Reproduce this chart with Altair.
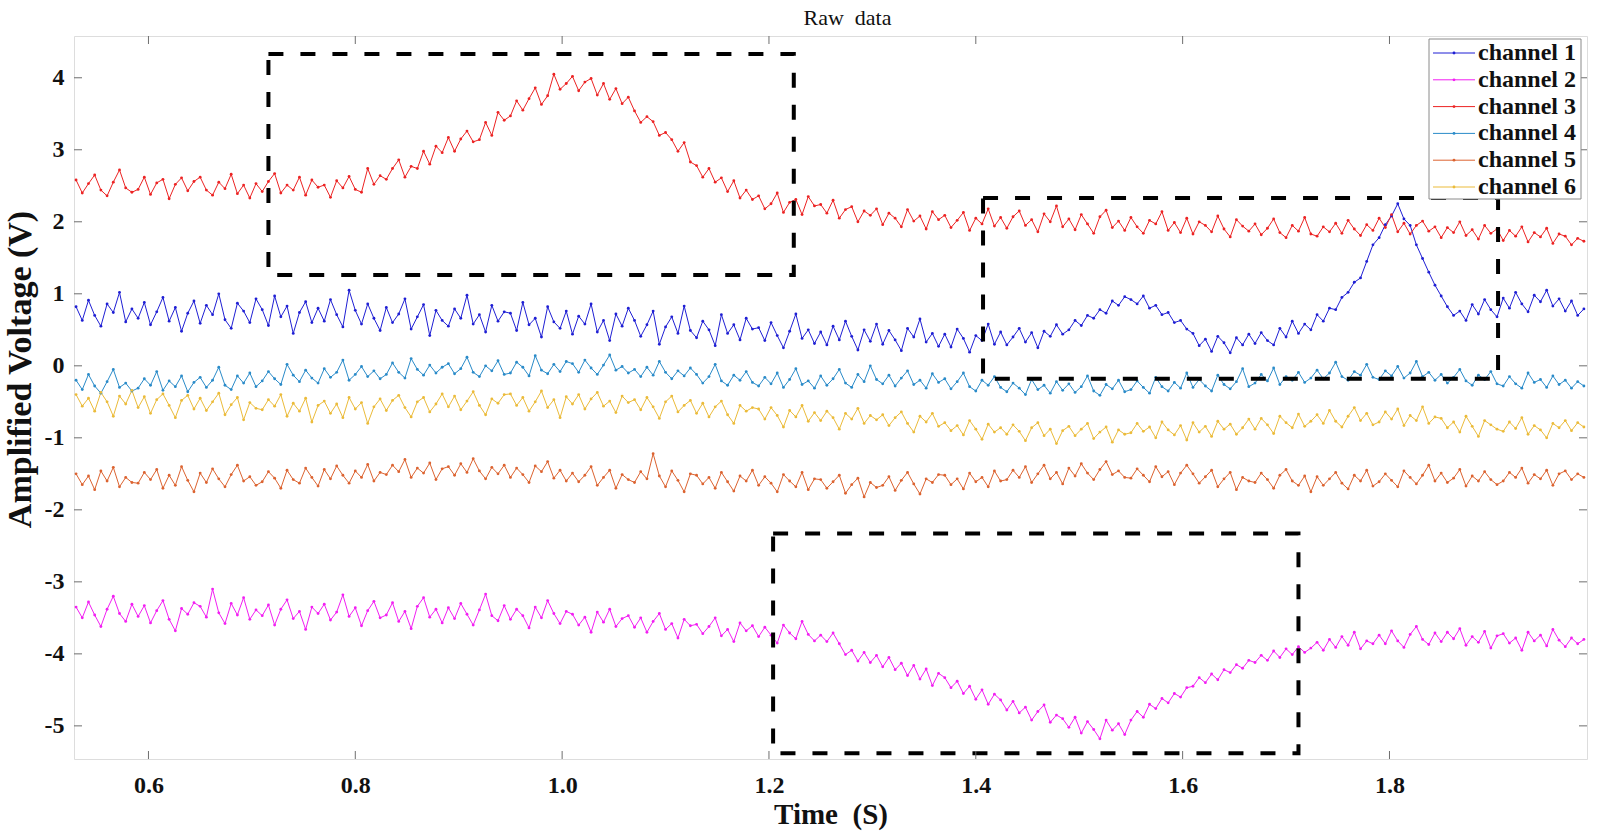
import altair as alt
import pandas as pd

# Sampling grid of the recording (seconds)
SAMPLE_START = 0.530
SAMPLE_STEP = 0.006

# Amplified voltage per channel (V), one row = 10 consecutive samples
ch1 = [
    0.82, 0.63, 0.91, 0.70, 0.55, 0.86, 0.74, 1.02, 0.61, 0.79,
    0.66, 0.88, 0.57, 0.75, 0.95, 0.62, 0.81, 0.48, 0.73, 0.90,
    0.59, 0.84, 0.71, 1.00, 0.64, 0.52, 0.87, 0.76, 0.60, 0.93,
    0.78, 0.56, 0.97, 0.68, 0.83, 0.45, 0.74, 0.89, 0.60, 0.80,
    0.62, 0.92, 0.71, 0.54, 1.05, 0.77, 0.58, 0.86, 0.66, 0.49,
    0.81, 0.60, 0.72, 0.93, 0.51, 0.68, 0.85, 0.42, 0.77, 0.63,
    0.55, 0.79, 0.66, 0.98, 0.58, 0.71, 0.47, 0.84, 0.62, 0.75,
    0.73, 0.49, 0.88, 0.57, 0.66, 0.40, 0.82, 0.61, 0.52, 0.76,
    0.44, 0.69, 0.58, 0.86, 0.47, 0.63, 0.35, 0.72, 0.55, 0.80,
    0.63, 0.41, 0.57, 0.76, 0.30, 0.54, 0.68, 0.45, 0.83, 0.49,
    0.39, 0.62, 0.50, 0.28, 0.71, 0.45, 0.57, 0.36, 0.66, 0.51,
    0.53, 0.35, 0.60, 0.42, 0.25, 0.48, 0.72, 0.38, 0.50, 0.31,
    0.47, 0.29, 0.55, 0.36, 0.62, 0.41, 0.22, 0.50, 0.34, 0.58,
    0.30, 0.49, 0.36, 0.21, 0.52, 0.40, 0.65, 0.33, 0.45, 0.27,
    0.44, 0.26, 0.51, 0.38, 0.19, 0.42, 0.35, 0.58, 0.30, 0.47,
    0.29, 0.40, 0.52, 0.33, 0.46, 0.25, 0.48, 0.41, 0.57, 0.44,
    0.50, 0.63, 0.56, 0.70, 0.66, 0.78, 0.73, 0.90, 0.84, 0.96,
    0.92, 0.86, 0.97, 0.80, 0.84, 0.71, 0.74, 0.60, 0.63, 0.51,
    0.45, 0.28, 0.37, 0.20, 0.41, 0.32, 0.18, 0.39, 0.29, 0.44,
    0.31, 0.46, 0.35, 0.29, 0.52, 0.40, 0.62, 0.45, 0.58, 0.50,
    0.71, 0.62, 0.80, 0.78, 0.95, 1.02, 1.16, 1.22, 1.45, 1.68,
    1.78, 1.96, 2.08, 2.25, 2.04, 1.95, 1.68, 1.49, 1.30, 1.12,
    0.97, 0.82, 0.70, 0.76, 0.63, 0.85, 0.72, 0.92, 0.78, 0.68,
    0.94, 0.80, 1.02, 0.86, 0.75, 0.98, 0.89, 1.05, 0.83, 0.93,
    0.76, 0.90, 0.70, 0.79,
]

ch2 = [
    -3.35, -3.50, -3.28, -3.46, -3.62, -3.38, -3.20, -3.44, -3.55, -3.31,
    -3.48, -3.33, -3.57, -3.40, -3.26, -3.52, -3.68, -3.37, -3.45, -3.29,
    -3.34, -3.49, -3.10, -3.43, -3.58, -3.30, -3.46, -3.22, -3.52, -3.39,
    -3.47, -3.32, -3.60, -3.38, -3.25, -3.51, -3.41, -3.66, -3.35, -3.44,
    -3.31, -3.53, -3.42, -3.18, -3.48, -3.36, -3.61, -3.40, -3.27, -3.50,
    -3.46, -3.29, -3.55, -3.41, -3.65, -3.34, -3.22, -3.49, -3.38, -3.57,
    -3.36, -3.51, -3.30, -3.45, -3.60, -3.39, -3.17, -3.47, -3.54, -3.33,
    -3.52, -3.38, -3.47, -3.64, -3.35, -3.50, -3.26, -3.44, -3.58, -3.41,
    -3.45, -3.60, -3.49, -3.70, -3.42, -3.56, -3.38, -3.62, -3.51, -3.47,
    -3.63, -3.50, -3.70, -3.55, -3.44, -3.66, -3.58, -3.78, -3.52, -3.61,
    -3.59, -3.72, -3.62, -3.50, -3.75, -3.66, -3.83, -3.57, -3.68, -3.61,
    -3.76, -3.63, -3.74, -3.85, -3.60, -3.71, -3.79, -3.55, -3.73, -3.82,
    -3.74, -3.83, -3.71, -3.86, -4.01, -3.95, -4.10, -3.98, -4.12, -4.02,
    -4.18, -4.05, -4.22, -4.13, -4.30, -4.16, -4.35, -4.21, -4.44, -4.27,
    -4.33, -4.47, -4.38, -4.55, -4.45, -4.63, -4.50, -4.70, -4.56, -4.64,
    -4.78, -4.66, -4.82, -4.74, -4.92, -4.80, -4.71, -4.95, -4.85, -4.90,
    -5.02, -4.88, -5.10, -4.94, -5.05, -5.18, -4.92, -5.06, -4.97, -5.12,
    -4.92, -4.80, -4.88, -4.70, -4.76, -4.62, -4.68, -4.55, -4.60, -4.47,
    -4.45, -4.33, -4.40, -4.28, -4.36, -4.22, -4.26, -4.15, -4.20, -4.09,
    -4.12, -4.02, -4.09, -3.96, -4.05, -3.93, -4.01, -3.90, -3.98, -3.92,
    -3.84, -3.95, -3.80, -3.91, -3.76, -3.88, -3.70, -3.93, -3.82, -3.86,
    -3.74, -3.86, -3.68, -3.82, -3.91, -3.73, -3.62, -3.80, -3.87, -3.71,
    -3.83, -3.70, -3.79, -3.65, -3.88, -3.76, -3.84, -3.69, -3.92, -3.75,
    -3.72, -3.85, -3.78, -3.95, -3.70, -3.82, -3.74, -3.89, -3.66, -3.81,
    -3.90, -3.78, -3.86, -3.80,
]

ch3 = [
    2.58, 2.40, 2.53, 2.65, 2.44, 2.36, 2.55, 2.72, 2.47, 2.41,
    2.45, 2.62, 2.38, 2.54, 2.59, 2.32, 2.52, 2.61, 2.43, 2.56,
    2.62, 2.44, 2.37, 2.55, 2.46, 2.66, 2.39, 2.51, 2.33, 2.53,
    2.42, 2.56, 2.67, 2.40, 2.51, 2.44, 2.62, 2.37, 2.58, 2.48,
    2.51, 2.34, 2.57, 2.47, 2.63, 2.45, 2.41, 2.74, 2.52, 2.64,
    2.59, 2.74, 2.86, 2.62, 2.77, 2.74, 2.98, 2.80, 3.05, 2.96,
    3.17, 2.98, 3.15, 3.26, 3.11, 3.14, 3.38, 3.20, 3.52, 3.41,
    3.47, 3.68, 3.55, 3.71, 3.86, 3.63, 3.75, 4.05, 3.84, 3.92,
    4.02, 3.82, 3.94, 3.99, 3.76, 3.92, 3.70, 3.85, 3.64, 3.73,
    3.54, 3.38, 3.46, 3.39, 3.20, 3.24, 3.14, 2.98, 3.10, 2.83,
    2.78, 2.62, 2.74, 2.55, 2.61, 2.42, 2.57, 2.33, 2.44, 2.31,
    2.36, 2.18, 2.25, 2.40, 2.13, 2.27, 2.31, 2.10, 2.35, 2.22,
    2.24, 2.12, 2.30, 2.05, 2.17, 2.21, 2.00, 2.15, 2.09, 2.18,
    1.96, 2.12, 2.05, 1.93, 2.17, 2.01, 2.08, 1.90, 2.14, 2.03,
    2.09, 1.92, 2.02, 2.13, 1.88, 2.05, 1.97, 2.18, 1.94, 2.06,
    1.91, 2.07, 2.15, 1.95, 2.03, 1.86, 2.11, 2.00, 2.22, 1.93,
    2.04, 1.89, 2.10, 1.97, 1.84, 2.07, 2.16, 1.92, 2.01, 1.88,
    2.06, 1.93, 1.84, 2.02, 1.97, 2.14, 1.88, 1.99, 1.85, 2.05,
    1.83, 2.00, 1.95, 1.86, 2.08, 1.90, 1.79, 2.03, 1.94, 1.87,
    1.97, 1.82, 1.91, 2.04, 1.85, 1.78, 1.95, 1.87, 2.06, 1.83,
    1.80, 1.93, 1.86, 1.98, 1.84, 2.02, 1.90, 1.81, 1.96, 1.88,
    2.05, 1.92, 2.10, 1.86, 1.98, 1.83, 1.95, 2.01, 1.87, 1.93,
    1.78, 1.92, 1.85, 2.00, 1.81, 1.89, 1.76, 1.95, 1.84, 1.90,
    1.74, 1.88, 1.80, 1.93, 1.72, 1.85, 1.79, 1.91, 1.70, 1.83,
    1.80, 1.68, 1.77, 1.73,
]

ch4 = [
    -0.20, -0.33, -0.12, -0.28, -0.38, -0.22, -0.05, -0.30, -0.24, -0.35,
    -0.31, -0.18, -0.27, -0.08, -0.34, -0.21, -0.29, -0.14, -0.36, -0.23,
    -0.16, -0.30, -0.20, -0.02, -0.27, -0.33, -0.14, -0.24, -0.10, -0.29,
    -0.21, -0.08, -0.18, -0.26, 0.02, -0.13, -0.22, -0.06, -0.17, -0.24,
    -0.04, -0.16, -0.09, 0.08, -0.20, -0.12, -0.01, -0.15, -0.07, -0.18,
    -0.12, 0.04, -0.09, -0.17, 0.10, -0.05, -0.13, 0.01, -0.10, -0.02,
    0.03, -0.11, -0.04, 0.12, -0.09, -0.15, 0.00, -0.07, 0.07, -0.12,
    -0.10, 0.05, -0.02, -0.14, 0.14, -0.06, -0.11, 0.02, -0.08, 0.06,
    0.03, -0.09, 0.08, -0.03, -0.12, 0.01, 0.15, -0.06, -0.01, -0.10,
    -0.05, -0.15, -0.02, -0.13, 0.06, -0.09, -0.18, -0.07, -0.14, -0.03,
    -0.12, -0.24, -0.15, 0.02, -0.21, -0.27, -0.13, -0.20, -0.08, -0.23,
    -0.28, -0.16, -0.25, -0.10, -0.30, -0.19, -0.04, -0.26, -0.21, -0.31,
    -0.14, -0.27, -0.18, -0.05, -0.24, -0.30, -0.12, -0.22, 0.00, -0.19,
    -0.25, -0.13, -0.28, -0.17, -0.07, -0.26, -0.20, -0.31, -0.11, -0.23,
    -0.18, -0.32, -0.22, -0.10, -0.29, -0.35, -0.20, -0.27, -0.15, -0.30,
    -0.36, -0.24, -0.31, -0.40, -0.19, -0.33, -0.27, -0.38, -0.22, -0.34,
    -0.25, -0.37, -0.29, -0.14, -0.35, -0.41, -0.26, -0.32, -0.20, -0.36,
    -0.33, -0.21, -0.30, -0.38, -0.16, -0.29, -0.35, -0.23, -0.31, -0.10,
    -0.30, -0.19, -0.28, -0.35, -0.13, -0.26, -0.32, -0.22, -0.04, -0.29,
    -0.24, -0.12, -0.21, -0.03, -0.26, -0.15, -0.20, -0.09, -0.23, -0.17,
    -0.06, -0.18, -0.10, 0.05, -0.15, -0.20, -0.08, -0.13, 0.02, -0.16,
    -0.19, -0.07, -0.14, -0.01, -0.17, -0.10, 0.06, -0.15, -0.09, -0.20,
    -0.12, -0.24, -0.16, -0.05, -0.21, -0.27, -0.13, -0.19, -0.08, -0.25,
    -0.28, -0.15, -0.25, -0.31, -0.10, -0.23, -0.19, -0.30, -0.14, -0.26,
    -0.20, -0.31, -0.22, -0.28,
]

ch5 = [
    -1.50, -1.65, -1.53, -1.72, -1.46, -1.60, -1.41, -1.68, -1.55, -1.62,
    -1.63, -1.48, -1.58, -1.44, -1.70, -1.52, -1.66, -1.40, -1.59, -1.75,
    -1.49, -1.62, -1.43, -1.57, -1.68, -1.51, -1.38, -1.60, -1.54, -1.66,
    -1.61, -1.47, -1.56, -1.70, -1.45, -1.58, -1.63, -1.42, -1.55, -1.67,
    -1.44, -1.57, -1.39, -1.52, -1.63, -1.46, -1.55, -1.37, -1.60, -1.48,
    -1.51, -1.38, -1.47, -1.30, -1.55, -1.42, -1.49, -1.35, -1.58, -1.43,
    -1.40, -1.52, -1.36, -1.48, -1.29, -1.46, -1.57, -1.41, -1.50, -1.38,
    -1.55, -1.42, -1.51, -1.62, -1.39, -1.47, -1.33, -1.56, -1.45, -1.60,
    -1.49, -1.61, -1.52, -1.40, -1.66, -1.55, -1.45, -1.70, -1.51, -1.58,
    -1.62, -1.47, -1.57, -1.22, -1.53, -1.68, -1.46, -1.59, -1.75, -1.50,
    -1.52, -1.64, -1.55, -1.70, -1.48, -1.61, -1.74, -1.53, -1.60, -1.45,
    -1.66, -1.54, -1.63, -1.75, -1.51, -1.60, -1.68, -1.48, -1.72, -1.57,
    -1.58, -1.70, -1.61, -1.52, -1.77, -1.65, -1.56, -1.82, -1.62, -1.69,
    -1.66, -1.54, -1.73, -1.59, -1.48, -1.64, -1.78, -1.57, -1.62, -1.51,
    -1.52, -1.65, -1.57, -1.71, -1.49, -1.61, -1.55, -1.68, -1.46, -1.60,
    -1.58, -1.45, -1.55, -1.40, -1.62, -1.50, -1.38, -1.57, -1.48, -1.64,
    -1.42, -1.53, -1.36, -1.49, -1.58, -1.44, -1.33, -1.51, -1.46, -1.55,
    -1.56, -1.43, -1.52, -1.61, -1.40, -1.54, -1.47, -1.65, -1.49, -1.38,
    -1.50, -1.63, -1.54, -1.45, -1.68, -1.57, -1.48, -1.72, -1.55, -1.60,
    -1.62, -1.49, -1.58, -1.70, -1.52, -1.44, -1.60, -1.66, -1.53, -1.75,
    -1.54, -1.66, -1.57, -1.48, -1.63, -1.71, -1.52, -1.60, -1.45, -1.67,
    -1.61, -1.50, -1.59, -1.68, -1.46, -1.55, -1.64, -1.52, -1.38, -1.60,
    -1.49, -1.62, -1.56, -1.44, -1.67, -1.53, -1.60, -1.47, -1.58, -1.65,
    -1.60, -1.48, -1.55, -1.42, -1.63, -1.51, -1.57, -1.45, -1.66, -1.50,
    -1.46, -1.58, -1.50, -1.55,
]

ch6 = [
    -0.40, -0.56, -0.45, -0.63, -0.37, -0.50, -0.70, -0.42, -0.53, -0.34,
    -0.58, -0.43, -0.66, -0.47, -0.39, -0.55, -0.72, -0.48, -0.41, -0.60,
    -0.45, -0.62, -0.50, -0.38, -0.68, -0.54, -0.44, -0.75, -0.51, -0.59,
    -0.61, -0.47, -0.56, -0.40, -0.70, -0.52, -0.63, -0.45, -0.78, -0.55,
    -0.49, -0.66, -0.53, -0.72, -0.44, -0.60, -0.51, -0.80, -0.57, -0.46,
    -0.62, -0.48, -0.41, -0.58, -0.71, -0.50, -0.44, -0.64, -0.53, -0.39,
    -0.57, -0.42, -0.61, -0.49, -0.36, -0.55, -0.68, -0.46, -0.52, -0.40,
    -0.39, -0.55, -0.44, -0.63, -0.50, -0.35, -0.58, -0.47, -0.72, -0.43,
    -0.53, -0.40, -0.60, -0.46, -0.37, -0.56, -0.49, -0.65, -0.42, -0.51,
    -0.47, -0.61, -0.44, -0.57, -0.73, -0.50, -0.42, -0.64, -0.55, -0.48,
    -0.66, -0.52, -0.71, -0.57, -0.49, -0.68, -0.80, -0.55, -0.63, -0.58,
    -0.60, -0.74, -0.58, -0.69, -0.85, -0.62, -0.71, -0.55, -0.77, -0.65,
    -0.76, -0.63, -0.72, -0.88, -0.66, -0.74, -0.59, -0.80, -0.69, -0.75,
    -0.68, -0.83, -0.72, -0.64, -0.80, -0.92, -0.70, -0.78, -0.66, -0.84,
    -0.79, -0.90, -0.83, -0.96, -0.76, -0.88, -1.02, -0.81, -0.92, -0.86,
    -0.95, -0.82, -0.91, -1.04, -0.86, -0.79, -0.97, -0.88, -1.08, -0.90,
    -0.84, -0.97, -0.88, -0.80, -1.01, -0.92, -0.85, -1.06, -0.89, -0.95,
    -0.93, -0.80, -0.91, -0.85, -1.00, -0.78, -0.89, -0.96, -0.83, -1.03,
    -0.79, -0.92, -0.84, -0.98, -0.77, -0.88, -0.81, -0.95, -0.86, -0.74,
    -0.88, -0.73, -0.82, -0.94, -0.70, -0.79, -0.86, -0.67, -0.84, -0.77,
    -0.68, -0.80, -0.62, -0.77, -0.85, -0.70, -0.58, -0.76, -0.66, -0.82,
    -0.78, -0.64, -0.74, -0.60, -0.83, -0.69, -0.76, -0.57, -0.80, -0.71,
    -0.73, -0.86, -0.78, -0.92, -0.70, -0.84, -0.98, -0.76, -0.82, -0.88,
    -0.91, -0.78, -0.87, -0.72, -0.95, -0.83, -0.89, -1.00, -0.80, -0.86,
    -0.76, -0.90, -0.79, -0.85,
]

CHANNELS = ["channel 1", "channel 2", "channel 3", "channel 4", "channel 5", "channel 6"]
SERIES = [ch1, ch2, ch3, ch4, ch5, ch6]
COLORS = ["#1f1fd4", "#f21ff2", "#ec2323", "#2a8bc9", "#dc6330", "#ebbb3a"]

# Highlighted regions (time span and voltage span of each dashed frame)
BOX_T0 = [0.716, 1.407, 1.204]
BOX_T1 = [1.224, 1.905, 1.712]
BOX_V0 = [1.26, -0.18, -5.38]
BOX_V1 = [4.33, 2.33, -2.33]

X_DOMAIN = [0.528, 1.991]
Y_DOMAIN = [-5.46, 4.58]
X_TICKS = [0.6, 0.8, 1.0, 1.2, 1.4, 1.6, 1.8]
Y_TICKS = [-5, -4, -3, -2, -1, 0, 1, 2, 3, 4]

W, H = 1513, 723
FONT = "Liberation Serif"
TICK_LEN = 8
AXIS_GRAY = "#6e6e6e"

# Legend box geometry inside the plot area (px)
LEG_LEFT, LEG_RIGHT, LEG_TOP, LEG_BOTTOM = 1355, 1507, 3, 163
LEG_ROW_FIRST, LEG_ROW_LAST = 17, 151
LEG_LINE_X0, LEG_LINE_X1, LEG_TEXT_X = 1359, 1401, 1404

rows = []
for name, vals in zip(CHANNELS, SERIES):
    for i, v in enumerate(vals):
        rows.append({"t": round(SAMPLE_START + SAMPLE_STEP * i, 4), "v": v, "channel": name})
signals = pd.DataFrame(rows)

boxes = pd.DataFrame({"t0": BOX_T0, "t1": BOX_T1, "v0": BOX_V0, "v1": BOX_V1})
xt = pd.DataFrame({"t": X_TICKS})
yt = pd.DataFrame({"v": Y_TICKS})
legend_rows = pd.DataFrame({"row": list(range(len(CHANNELS))), "channel": CHANNELS})

xscale = alt.Scale(domain=X_DOMAIN, nice=False, zero=False)
yscale = alt.Scale(domain=Y_DOMAIN, nice=False, zero=False)
cscale = alt.Scale(domain=CHANNELS, range=COLORS)

# One axis definition shared by every layer so the merged axes keep it
x_axis = alt.Axis(
    title="Time\u00a0 (S)", values=X_TICKS, format=".1f",
    ticks=False, domain=False, grid=False,
    labelFont=FONT, labelFontSize=24, labelFontWeight="bold", labelColor="#111",
    labelPadding=14,
    titleFont=FONT, titleFontSize=29, titleFontWeight="bold", titleColor="#111",
    titlePadding=3,
)
y_axis = alt.Axis(
    title="Amplified Voltage (V)", values=Y_TICKS, labelExpr="'' + datum.value",
    ticks=False, domain=False, grid=False,
    labelFont=FONT, labelFontSize=24, labelFontWeight="bold", labelColor="#111",
    labelPadding=10,
    titleFont=FONT, titleFontSize=34, titleFontWeight="bold", titleColor="#111",
    titleX=-37, titleY=333,
)

lines = alt.Chart(signals).mark_line(
    strokeWidth=1.0,
    point=alt.OverlayMarkDef(filled=True, size=8, opacity=1),
).encode(
    x=alt.X("t:Q", scale=xscale, axis=x_axis),
    y=alt.Y("v:Q", scale=yscale, axis=y_axis),
    color=alt.Color("channel:N", scale=cscale, legend=None),
    order=alt.Order("t:Q"),
)

frames = alt.Chart(boxes).mark_rect(
    fill=None, fillOpacity=0, stroke="black", strokeWidth=4, strokeDash=[15, 17],
).encode(
    x=alt.X("t0:Q", scale=xscale, axis=x_axis), x2="t1:Q",
    y=alt.Y("v0:Q", scale=yscale, axis=y_axis), y2="v1:Q",
)

tick_style = dict(color=AXIS_GRAY, strokeWidth=1)
x_ticks_bottom = alt.Chart(xt).mark_rule(**tick_style).encode(
    x=alt.X("t:Q", scale=xscale, axis=x_axis), y=alt.value(H), y2=alt.value(H - TICK_LEN))
x_ticks_top = alt.Chart(xt).mark_rule(**tick_style).encode(
    x=alt.X("t:Q", scale=xscale, axis=x_axis), y=alt.value(0), y2=alt.value(TICK_LEN))
y_ticks_left = alt.Chart(yt).mark_rule(**tick_style).encode(
    y=alt.Y("v:Q", scale=yscale, axis=y_axis), x=alt.value(0), x2=alt.value(TICK_LEN))
y_ticks_right = alt.Chart(yt).mark_rule(**tick_style).encode(
    y=alt.Y("v:Q", scale=yscale, axis=y_axis), x=alt.value(W), x2=alt.value(W - TICK_LEN))

plot = alt.layer(lines, frames, x_ticks_bottom, x_ticks_top, y_ticks_left, y_ticks_right)

# Legend drawn as its own layer, rows placed by a dedicated row scale
row_y = alt.Y("row:Q", scale=alt.Scale(domain=[0, len(CHANNELS) - 1],
                                       range=[LEG_ROW_FIRST, LEG_ROW_LAST]), axis=None)
legend_base = alt.Chart(legend_rows)
legend_box = legend_base.transform_filter("datum.row == 0").mark_rect(
    fill="white", stroke="#8a8a8a", strokeWidth=1,
).encode(x=alt.value(LEG_LEFT), x2=alt.value(LEG_RIGHT),
         y=alt.value(LEG_TOP), y2=alt.value(LEG_BOTTOM))
legend_lines = legend_base.mark_rule(strokeWidth=1).encode(
    x=alt.value(LEG_LINE_X0), x2=alt.value(LEG_LINE_X1), y=row_y,
    color=alt.Color("channel:N", scale=cscale, legend=None))
legend_dots = legend_base.mark_point(filled=True, size=8, opacity=1).encode(
    x=alt.value((LEG_LINE_X0 + LEG_LINE_X1) / 2), y=row_y,
    color=alt.Color("channel:N", scale=cscale, legend=None))
legend_text = legend_base.mark_text(
    align="left", baseline="middle", font=FONT, fontSize=24, fontWeight="bold", color="#111",
).encode(x=alt.value(LEG_TEXT_X), y=row_y, text="channel:N")
legend_layer = alt.layer(legend_box, legend_lines, legend_dots, legend_text)

chart = alt.layer(plot, legend_layer).resolve_scale(y="independent").properties(
    width=W, height=H,
    title=alt.TitleParams("Raw\u00a0 data", font=FONT, fontSize=22, fontWeight="normal",
                          color="#111", offset=6, dx=17),
    autosize=alt.AutoSizeParams(type="none"),
    padding={"left": 74, "top": 36, "right": 13, "bottom": 81},
).configure_view(
    stroke=AXIS_GRAY, strokeWidth=1,
).configure(background="white")

chart.save("out.html", embed_options={"renderer": "svg", "actions": False})
